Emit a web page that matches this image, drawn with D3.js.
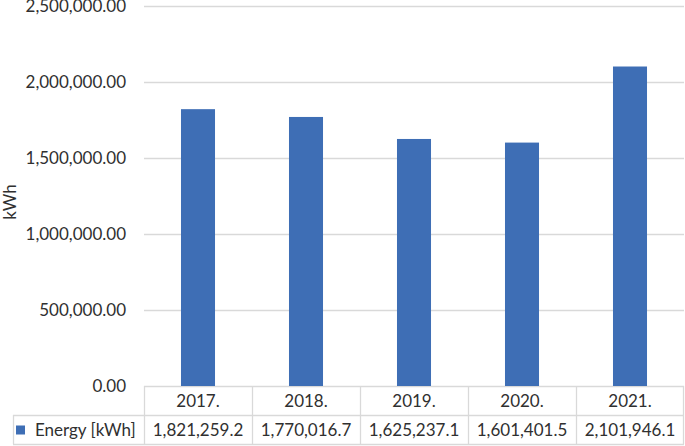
<!DOCTYPE html>
<html>
<head>
<meta charset="utf-8">
<script src="https://cdn.jsdelivr.net/npm/d3@7"></script>
<style>
  body { margin: 0; background: #fff; }
  svg text { font-family: Lato, "Open Sans", sans-serif; fill: #303030; }
</style>
</head>
<body>
<div id="chart"></div>
<script>
var years = ["2017.", "2018.", "2019.", "2020.", "2021."];
var energy = [1821259.2, 1770016.7, 1625237.1, 1601401.5, 2101946.1];
var energyLabels = ["1,821,259.2", "1,770,016.7", "1,625,237.1", "1,601,401.5", "2,101,946.1"];
var yTicks = [0, 500000, 1000000, 1500000, 2000000, 2500000];
var seriesName = "Energy [kWh]";

var width = 685, height = 446;
var margin = { top: 6, right: 1, bottom: 60, left: 144 };
var mwidth = width - margin.left - margin.right;
var mheight = height - margin.top - margin.bottom;
var barColor = "#3e6eb5";
var gridColor = "#d9d9d9";
var fs = "17px";

var svg = d3.select("#chart").append("svg")
    .attr("width", width)
    .attr("height", height);

var g = svg.append("g")
    .attr("transform", "translate(" + margin.left + "," + margin.top + ")");

var x = d3.scaleBand()
    .domain(years)
    .range([0, mwidth])
    .paddingInner(0)
    .paddingOuter(0);

var y = d3.scaleLinear()
    .domain([0, 2500000])
    .range([mheight, 0]);

// grid lines
g.selectAll(".grid")
    .data(yTicks)
    .enter().append("line")
    .attr("x1", 0)
    .attr("x2", mwidth)
    .attr("y1", function(d) { return Math.round(y(d)) + 0.5; })
    .attr("y2", function(d) { return Math.round(y(d)) + 0.5; })
    .attr("stroke", gridColor)
    .attr("stroke-width", 1.3);

// y axis labels
var fmt = d3.format(",.2f");
g.selectAll(".ylab")
    .data(yTicks)
    .enter().append("text")
    .attr("x", -18)
    .attr("y", function(d) { return y(d); })
    .attr("dy", "0.35em")
    .attr("text-anchor", "end")
    .style("font-size", fs)
    .text(function(d) { return fmt(d); });

// bars
var bw = x.bandwidth() * 0.315;
g.selectAll(".bar")
    .data(energy)
    .enter().append("rect")
    .attr("x", function(d, i) { return x(years[i]) + (x.bandwidth() - bw) / 2; })
    .attr("y", function(d) { return y(d); })
    .attr("width", bw)
    .attr("height", function(d) { return mheight - y(d); })
    .attr("fill", barColor);

// y axis title
svg.append("text")
    .attr("transform", "translate(16," + 202 + ") rotate(-90)")
    .attr("text-anchor", "middle")
    .style("font-size", fs)
    .text("kWh");

// data table
var t0 = margin.top + mheight;
var row1 = t0 + 29, row2 = height - 2;
var tableLeft = 13;
var tg = svg.append("g");

function hline(x1, x2, yy) {
    tg.append("line").attr("x1", x1).attr("x2", x2).attr("y1", yy + 0.5).attr("y2", yy + 0.5)
        .attr("stroke", gridColor).attr("stroke-width", 1.3);
}
function vline(xx, y1, y2) {
    tg.append("line").attr("x1", xx + 0.5).attr("x2", xx + 0.5).attr("y1", y1).attr("y2", y2)
        .attr("stroke", gridColor).attr("stroke-width", 1.3);
}

hline(tableLeft, width - 1, row1);
hline(tableLeft, width - 1, row2);
vline(tableLeft, row1, row2);
years.forEach(function(d) {
    vline(margin.left + x(d), t0, row2);
});
vline(margin.left + mwidth - 1, t0, row2);

years.forEach(function(d, i) {
    var cx = margin.left + x(d) + x.bandwidth() / 2;
    tg.append("text")
        .attr("x", cx)
        .attr("y", (t0 + row1) / 2 + 1)
        .attr("dy", "0.35em")
        .attr("text-anchor", "middle")
        .style("font-size", fs)
        .text(d);
    tg.append("text")
        .attr("x", cx)
        .attr("y", (row1 + row2) / 2 + 1)
        .attr("dy", "0.35em")
        .attr("text-anchor", "middle")
        .style("font-size", fs)
        .text(energyLabels[i]);
});

// legend key
tg.append("rect")
    .attr("x", 16)
    .attr("y", (row1 + row2) / 2 - 4)
    .attr("width", 9)
    .attr("height", 9)
    .attr("fill", barColor);
tg.append("text")
    .attr("x", 35)
    .attr("y", (row1 + row2) / 2 + 1)
    .attr("dy", "0.35em")
    .style("font-size", fs)
    .text(seriesName);
</script>
</body>
</html>
